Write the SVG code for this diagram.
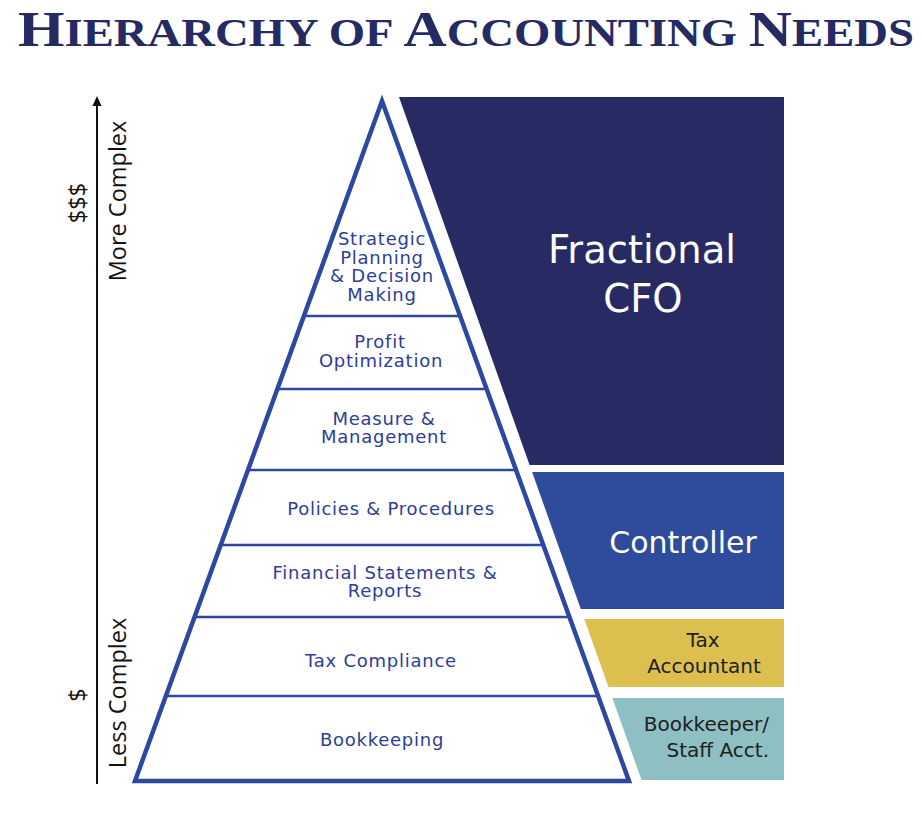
<svg xmlns="http://www.w3.org/2000/svg" width="922" height="820" viewBox="0 0 922 820">
<style>
.title{font-family:"Liberation Serif","DejaVu Serif",serif;font-weight:bold;fill:#262A63}
.pt{font-family:"DejaVu Sans","Noto Sans",sans-serif;font-size:18px;letter-spacing:0.75px;fill:#2E3D96;text-anchor:middle}
.wt{font-family:"DejaVu Sans","Noto Sans",sans-serif;fill:#FFFFFF;text-anchor:middle}
.dt{font-family:"DejaVu Sans","Noto Sans",sans-serif;font-size:20px;fill:#1E1E1E;text-anchor:middle}
.ax{font-family:"Open Sans","DejaVu Sans",sans-serif;font-size:23.5px;fill:#111111;text-anchor:middle}
.div{stroke:#2E47A0;stroke-width:2.6;fill:none}
</style>
<rect width="922" height="820" fill="#FFFFFF"/>
<text class="title" x="18" y="46" textLength="896" lengthAdjust="spacingAndGlyphs"><tspan font-size="50">H</tspan><tspan font-size="39">IERARCHY OF </tspan><tspan font-size="50">A</tspan><tspan font-size="39">CCOUNTING </tspan><tspan font-size="50">N</tspan><tspan font-size="39">EEDS</tspan></text>

<g id="axis">
<line x1="97" y1="784" x2="97" y2="104" stroke="#111111" stroke-width="2"/>
<polygon points="97,96 92.5,106 101.5,106" fill="#111111"/>
<text class="ax" transform="translate(86,203) rotate(-90)">$$$</text>
<text class="ax" transform="translate(126,201) rotate(-90)">More Complex</text>
<text class="ax" transform="translate(86,695) rotate(-90)">$</text>
<text class="ax" transform="translate(126,693) rotate(-90)">Less Complex</text>
</g>

<g id="pyramid">
<polygon points="382,101 629,781 135,781" fill="#FFFFFF" stroke="#2E47A0" stroke-width="4.5" stroke-linejoin="miter"/>
</g>
<g id="connectors">
<line class="div" x1="303.9" y1="316" x2="460.1" y2="316"/>
<line class="div" x1="277.4" y1="389" x2="486.6" y2="389"/>
<line class="div" x1="248.0" y1="470" x2="516.0" y2="470"/>
<line class="div" x1="220.7" y1="545" x2="543.3" y2="545"/>
<line class="div" x1="194.6" y1="617" x2="569.4" y2="617"/>
<line class="div" x1="165.9" y1="696" x2="598.1" y2="696"/>
</g>

<g id="level-strategic">
<text class="pt" x="382" y="245">Strategic</text>
<text class="pt" x="382" y="264">Planning</text>
<text class="pt" x="382" y="282">&amp; Decision</text>
<text class="pt" x="382" y="301">Making</text>
</g>
<g id="level-profit">
<text class="pt" x="380" y="348">Profit</text>
<text class="pt" x="381" y="367">Optimization</text>
</g>
<g id="level-measure">
<text class="pt" x="384" y="425">Measure &amp;</text>
<text class="pt" x="384" y="443">Management</text>
</g>
<g id="level-policies">
<text class="pt" x="391" y="515">Policies &amp; Procedures</text>
</g>
<g id="level-financial">
<text class="pt" x="385" y="579">Financial Statements &amp;</text>
<text class="pt" x="385" y="597">Reports</text>
</g>
<g id="level-tax">
<text class="pt" x="381" y="667">Tax Compliance</text>
</g>
<g id="level-bookkeeping">
<text class="pt" x="382" y="746">Bookkeeping</text>
</g>

<g id="role-cfo">
<polygon points="399,97 784,97 784,465 529.6,465" fill="#282B63"/>
<text class="wt" font-size="38.5" x="642" y="263">Fractional</text>
<text class="wt" font-size="38.5" x="643" y="312">CFO</text>
</g>
<g id="role-controller">
<polygon points="532.1,472 784,472 784,609 580.8,609" fill="#2F4B9B"/>
<text class="wt" font-size="30" x="683" y="553">Controller</text>
</g>
<g id="role-tax">
<polygon points="584.3,619 784,619 784,687 608.5,687" fill="#DCBF4F"/>
<text class="dt" x="703" y="647">Tax</text>
<text class="dt" x="704" y="673">Accountant</text>
</g>
<g id="role-bookkeeper">
<polygon points="612.4,698 784,698 784,780 641.5,780" fill="#8EBFC2"/>
<text class="dt" x="769" y="731" style="text-anchor:end">Bookkeeper/</text>
<text class="dt" x="769" y="757" style="text-anchor:end">Staff Acct.</text>
</g>
</svg>
